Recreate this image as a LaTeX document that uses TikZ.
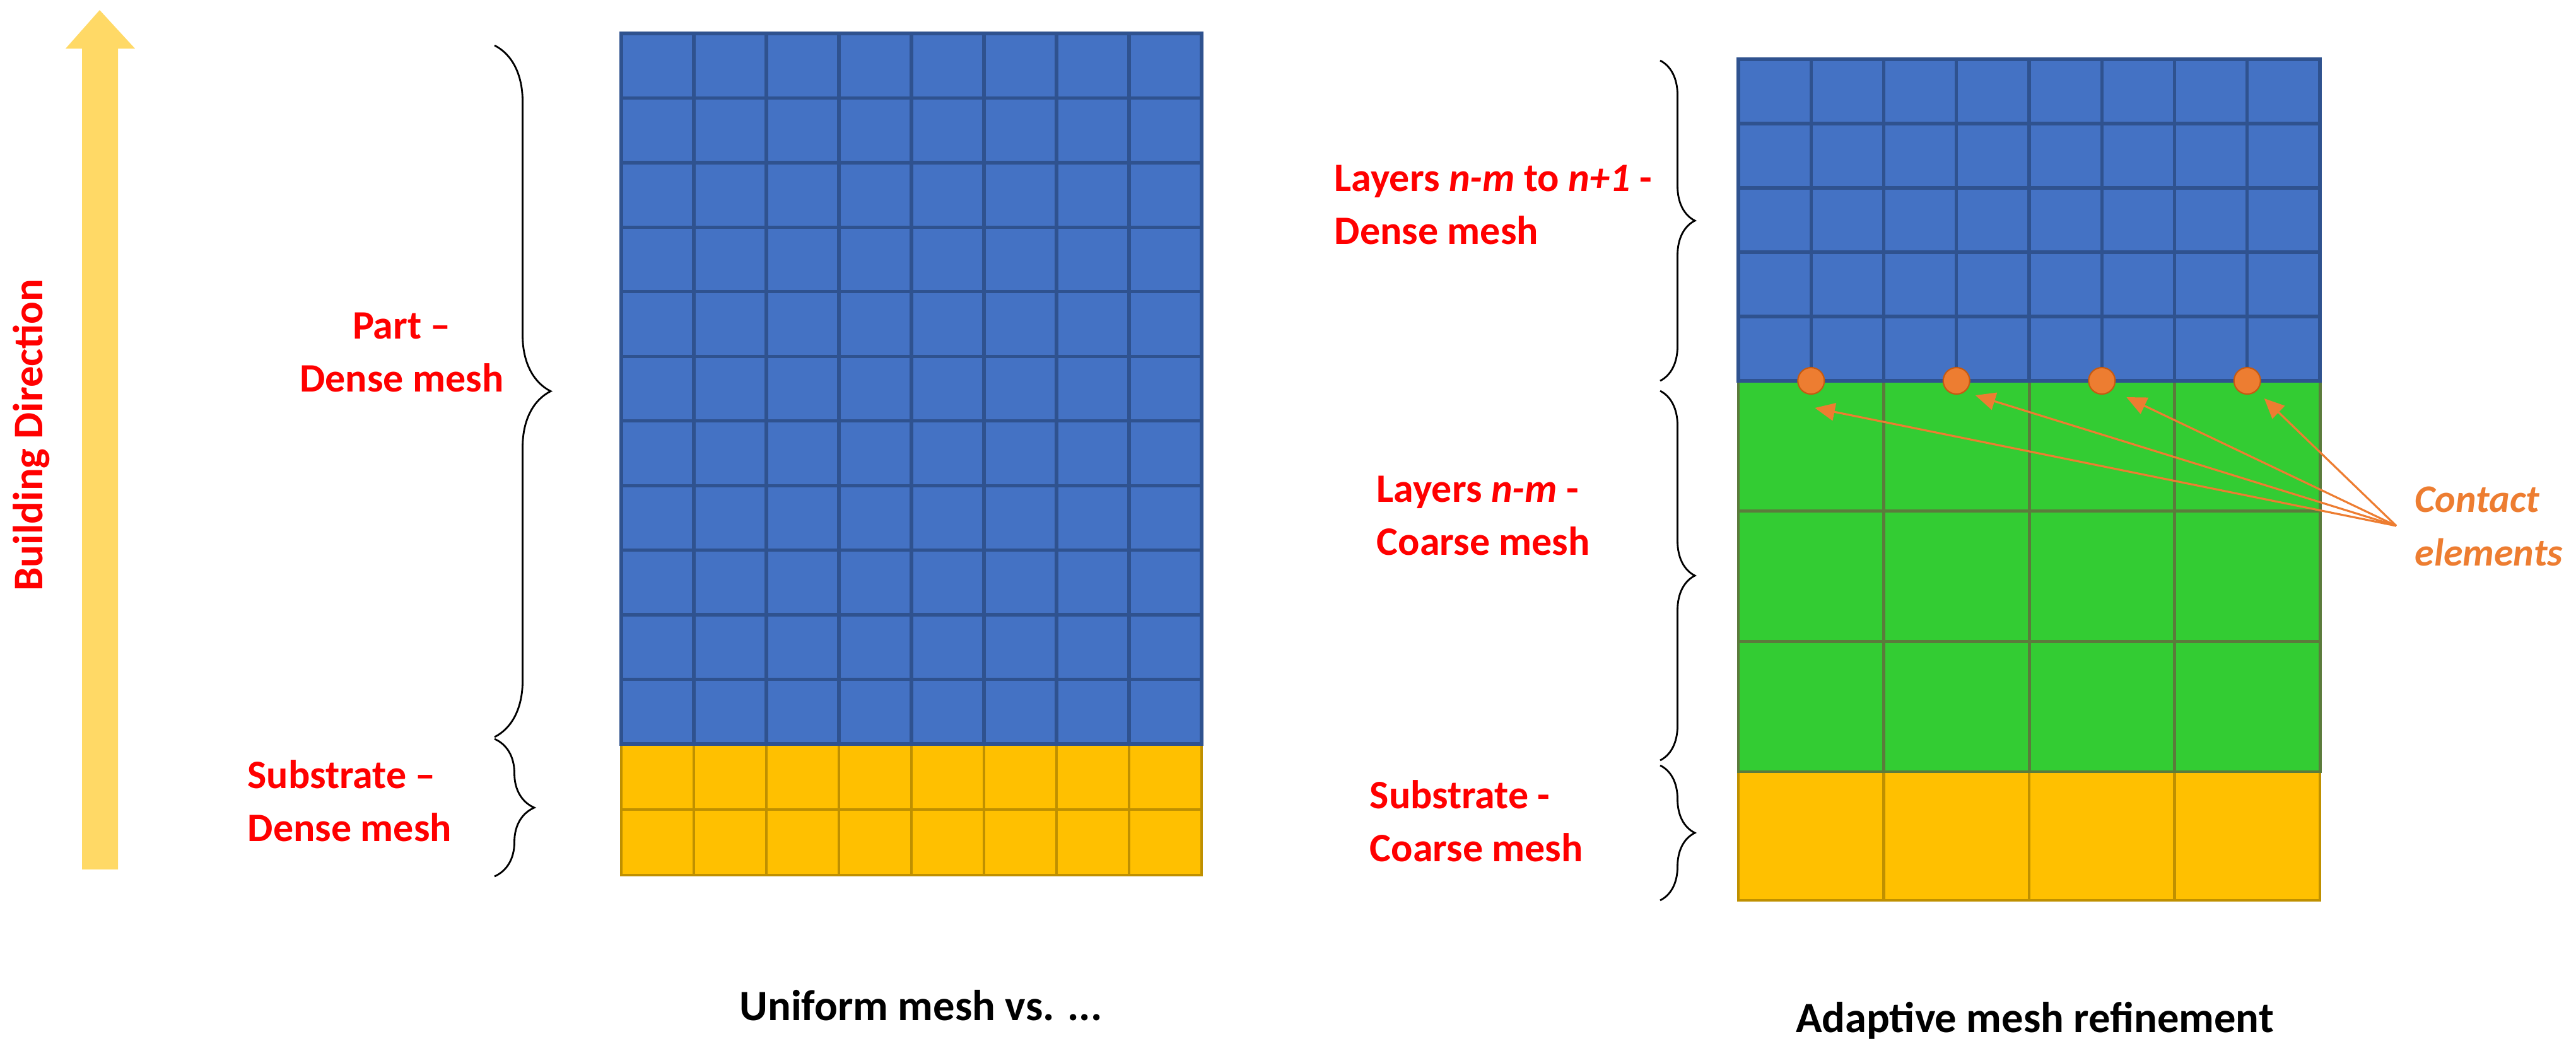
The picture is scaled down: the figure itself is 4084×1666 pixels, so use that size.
\documentclass[tikz,border=0pt]{standalone}
\usepackage{fontspec}
\setmainfont{Carlito}
\usetikzlibrary{arrows.meta,decorations.pathreplacing}
\definecolor{meshblue}{HTML}{4472C4}
\definecolor{lineblue}{HTML}{2F528F}
\definecolor{meshgold}{HTML}{FFC000}
\definecolor{linegold}{HTML}{BF9000}
\definecolor{meshgreen}{HTML}{33CC33}
\definecolor{linegreen}{HTML}{5B7B3C}
\definecolor{contactorange}{HTML}{ED7D31}
\definecolor{contactdark}{HTML}{C55A11}
\definecolor{buildyellow}{HTML}{FFD966}
\tikzset{
  redtext/.style={text=red, font=\fontsize{18.2}{24}\selectfont\bfseries, inner sep=0pt},
  caption/.style={font=\fontsize{19.5}{24}\selectfont\bfseries, inner sep=0pt},
  bluegrid/.style={draw=lineblue, line width=1.5pt},
  goldgrid/.style={draw=linegold, line width=1.2pt},
  greengrid/.style={draw=linegreen, line width=1.4pt},
  curly/.style={decorate, decoration={brace, amplitude=#1}, line width=0.8pt},
  contactdot/.style={circle, fill=contactorange, draw=contactdark, line width=0.6pt, minimum size=0.42cm, inner sep=0pt},
  contactarrow/.style={draw=contactorange, line width=0.9pt, -{Triangle[length=9pt,width=8pt]}}
}
\begin{document}
\begin{tikzpicture}[x=0.01cm, y=-0.01cm]
  \useasboundingbox (0,0) rectangle (4084,1666);
  % building direction
  \fill[buildyellow] (130,1379) -- (130,77) -- (104,77) -- (158,16) -- (214,77) -- (187,77) -- (187,1379) -- cycle;
  \node[redtext, font=\fontsize{19}{24}\selectfont\bfseries, rotate=90] (builddir) at (50,690) {Building Direction};

  % uniform mesh
  \fill[meshblue] (985,53) rectangle (1905,1180);
  \fill[meshgold] (985,1180) rectangle (1905,1388);
  \foreach \r in {1,...,10}
    \draw[bluegrid] (985,{53+\r*102.45}) -- (1905,{53+\r*102.45});
  \foreach \c in {1,...,7} {
    \draw[bluegrid] ({985+\c*115},53) -- ({985+\c*115},1180);
    \draw[goldgrid] ({985+\c*115},1180) -- ({985+\c*115},1388);
  }
  \draw[goldgrid] (985,1284) -- (1905,1284);
  \draw[goldgrid] (985,1180) rectangle (1905,1388);
  \draw[bluegrid] (985,53) rectangle (1905,1180);

  \draw[curly=0.89cm] (784,72) -- (784,1169);
  \draw[curly=0.63cm] (784,1172) -- (784,1390);
  \node[redtext, align=center] (partlbl) at (637,559) {Part –\\Dense mesh};
  \node[redtext, align=left, anchor=west] (sublbl) at (392,1270) {Substrate –\\Dense mesh};
  \node[caption, anchor=base] (uniform) at (1460,1618) {Uniform mesh vs. ...};

  % adaptive mesh
  \fill[meshblue] (2756,94) rectangle (3678,604);
  \fill[meshgreen] (2756,604) rectangle (3678,1224);
  \fill[meshgold] (2756,1224) rectangle (3678,1428);
  \foreach \r in {1,...,4}
    \draw[bluegrid] (2756,{94+\r*102}) -- (3678,{94+\r*102});
  \foreach \c in {1,...,7}
    \draw[bluegrid] ({2756+\c*115.25},94) -- ({2756+\c*115.25},604);
  \foreach \r in {1,2}
    \draw[greengrid] (2756,{604+\r*206.7}) -- (3678,{604+\r*206.7});
  \foreach \c in {1,2,3} {
    \draw[greengrid] ({2756+\c*230.5},604) -- ({2756+\c*230.5},1224);
    \draw[goldgrid] ({2756+\c*230.5},1224) -- ({2756+\c*230.5},1428);
  }
  \draw[goldgrid] (2756,1224) rectangle (3678,1428);
  \draw[greengrid] (2756,604) rectangle (3678,1224);
  \draw[bluegrid] (2756,94) rectangle (3678,604);

  \draw[curly=0.55cm] (2632,96) -- (2632,604);
  \draw[curly=0.55cm] (2632,620) -- (2632,1206);
  \draw[curly=0.55cm] (2632,1214) -- (2632,1428);
  \node[redtext, align=left, anchor=west] (denselbl) at (2115,325) {Layers \textit{n-m} to \textit{n+1} -\\Dense mesh};
  \node[redtext, align=left, anchor=west] (coarselbl) at (2182,818) {Layers \textit{n-m} -\\Coarse mesh};
  \node[redtext, align=left, anchor=west] (coarsesub) at (2171,1302) {Substrate -\\Coarse mesh};

  \foreach \i in {1,...,4}
    \node[contactdot] (c\i) at ({2756+(2*\i-1)*115.25},604) {};
  \node[redtext, text=contactorange, font=\fontsize{17.6}{24}\selectfont\bfseries\itshape, align=left, anchor=west] (contactlbl) at (3828,835) {Contact\\elements};
  \coordinate (fan) at (3799,834);
  \foreach \i/\dx/\dy in {1/6/43,2/30/23,3/39/26,4/27/28}
    \draw[contactarrow] (fan) -- ([shift={(\dx,\dy)}]c\i.center);
  \node[caption, anchor=base] (adaptive) at (3226,1637) {Adaptive mesh refinement};
\end{tikzpicture}
\end{document}
